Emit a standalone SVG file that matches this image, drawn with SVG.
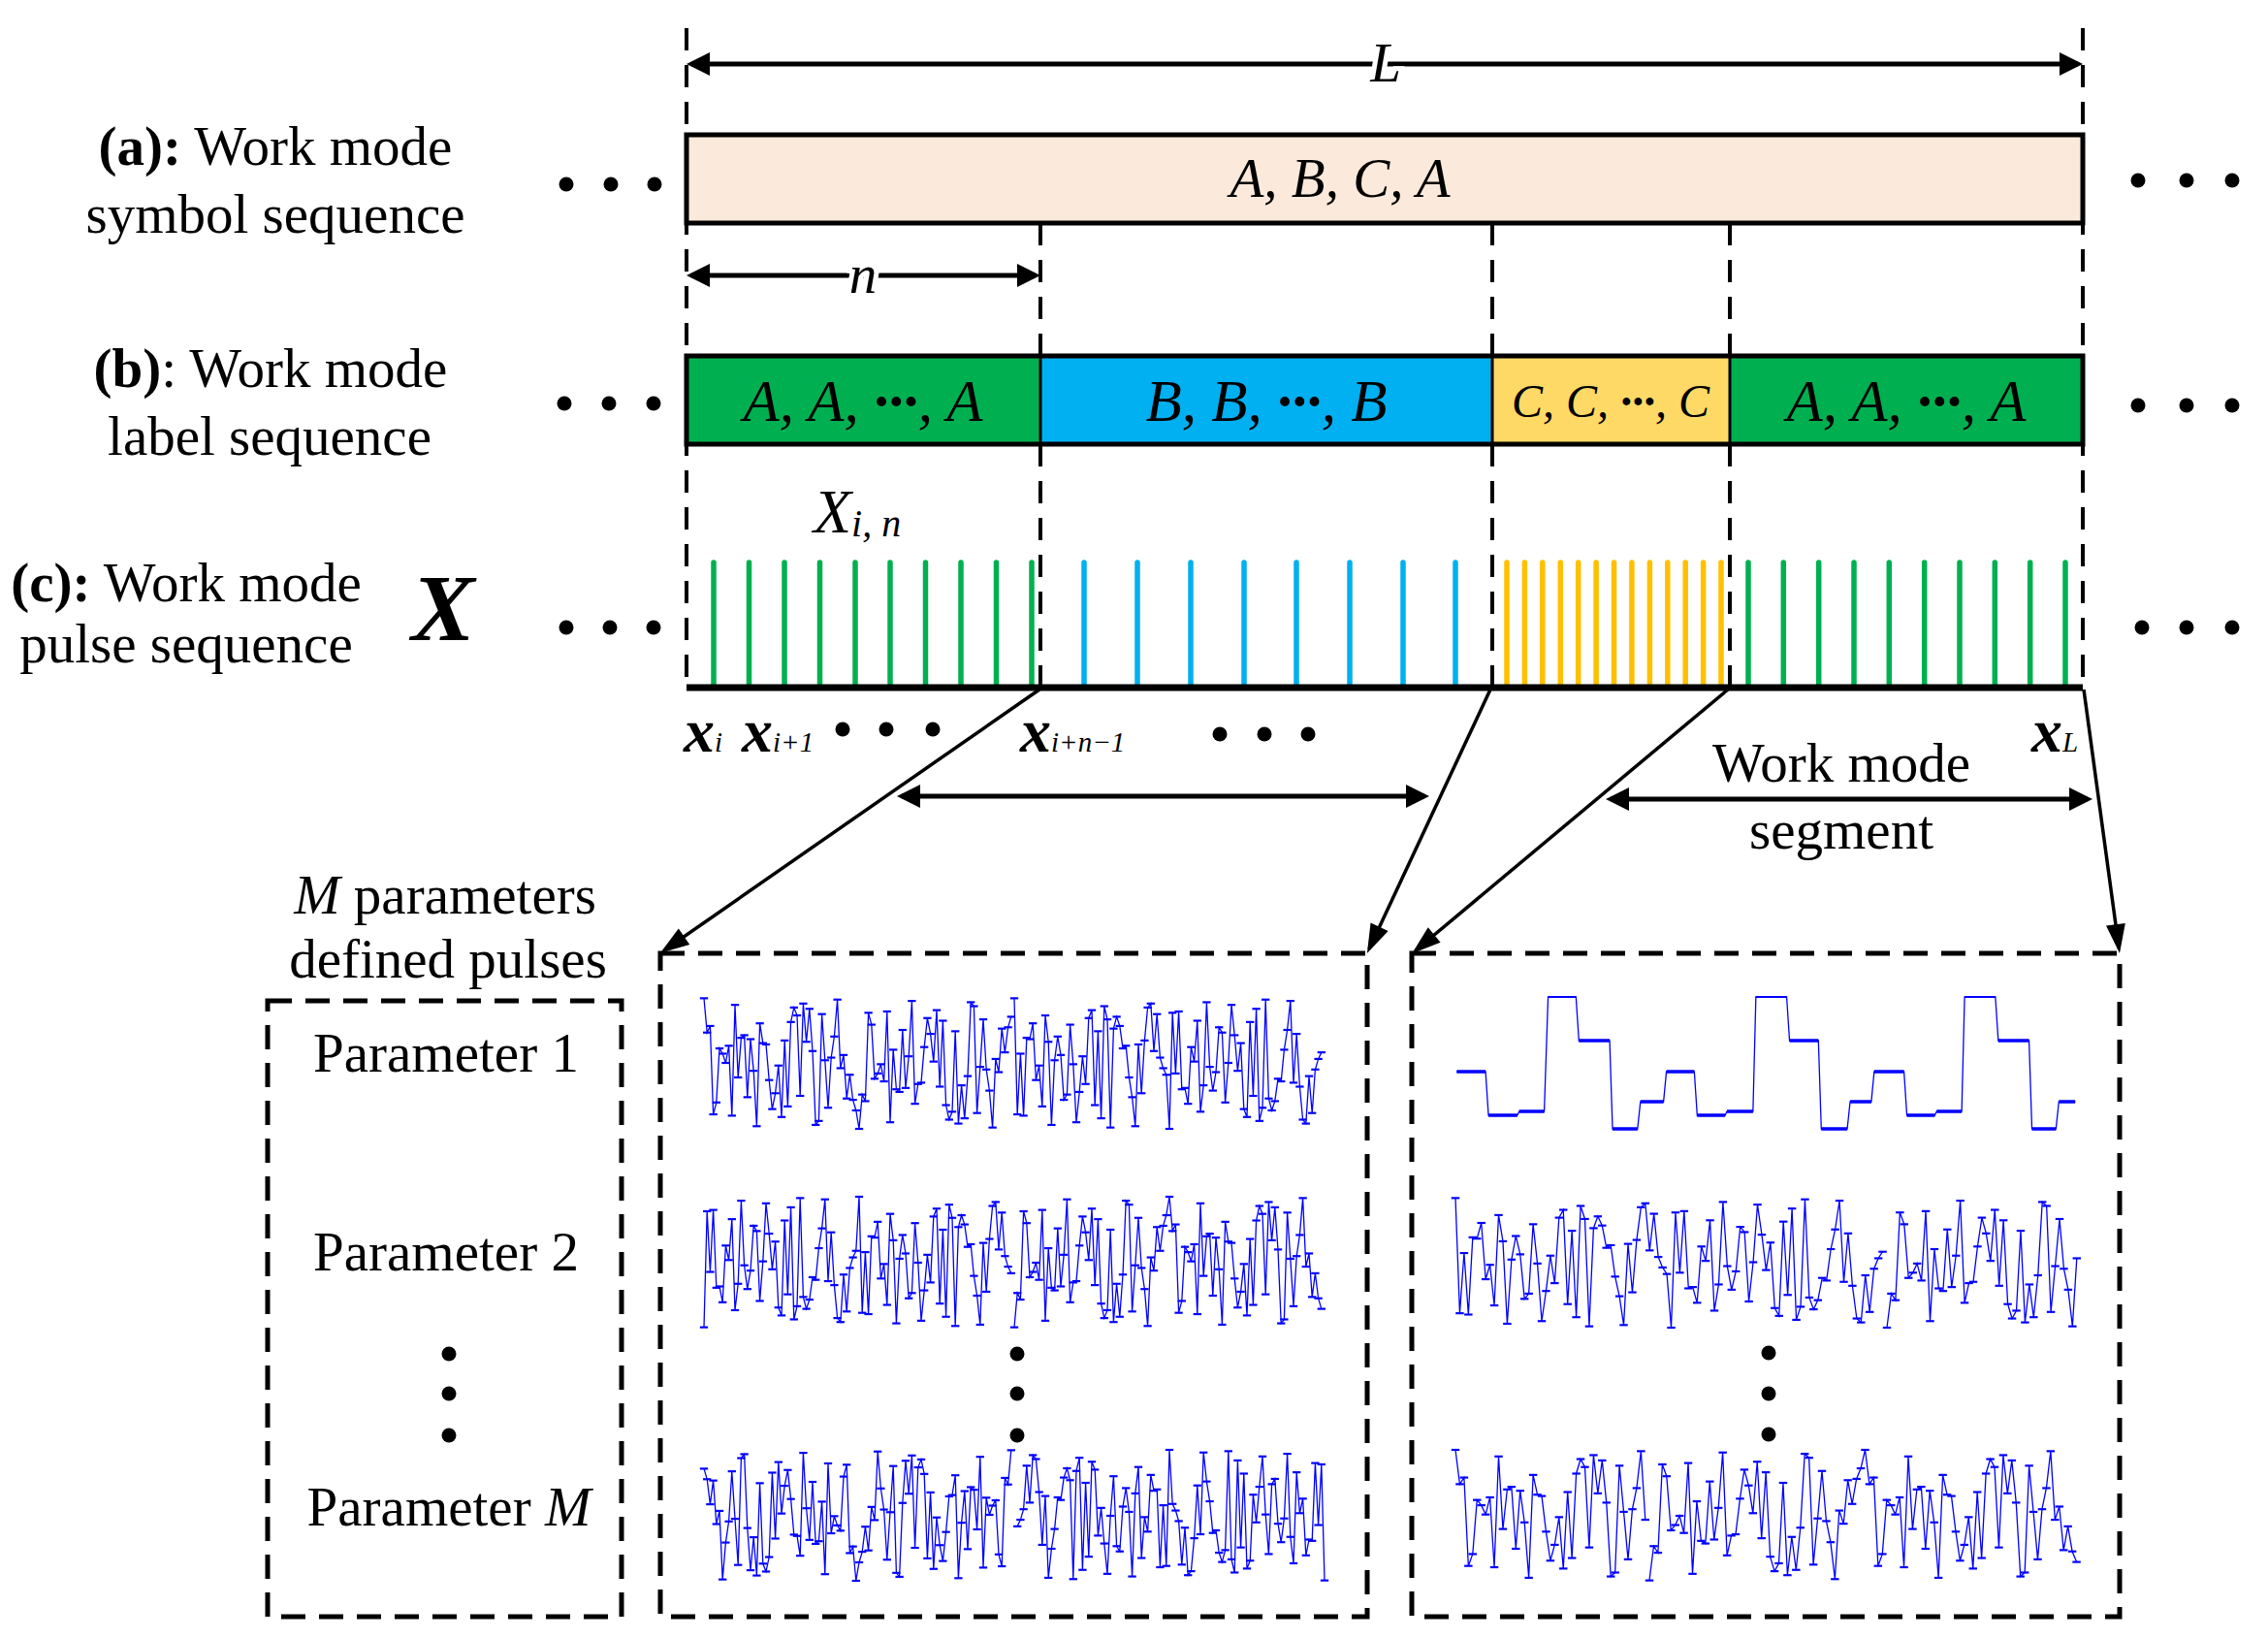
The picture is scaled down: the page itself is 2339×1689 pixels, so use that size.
<svg xmlns="http://www.w3.org/2000/svg" width="2339" height="1689" viewBox="0 0 2339 1689">
<style>
.t{font-family:"Liberation Serif","Times New Roman",serif;font-size:57px;fill:#000}
.it{font-style:italic}
.b{font-weight:bold}
.n{font-weight:normal}
.mid{text-anchor:middle}
.halo{stroke:#fff;stroke-width:10;paint-order:stroke}
.dv{stroke:#000;stroke-width:4;stroke-dasharray:23 15;fill:none}
.box{fill:none;stroke:#000;stroke-width:5;stroke-dasharray:25 14}
.arr{stroke:#000;stroke-width:5;fill:none;marker-start:url(#ah);marker-end:url(#ah)}
.con{stroke:#000;stroke-width:3.5;fill:none;marker-end:url(#ch)}
.pl{fill:none;stroke-width:5.5;stroke-linecap:round}
.wv{fill:none;stroke:#0000ff;stroke-width:1.3}
.m1{marker-start:url(#t1);marker-mid:url(#t1);marker-end:url(#t1)}
.m2{marker-start:url(#t2);marker-mid:url(#t2);marker-end:url(#t2)}
.dots{fill:#000}
.lbl{font-size:61px}
.xl{font-size:64px}
.sub{font-size:29px;font-weight:normal}
</style>
<defs>
<marker id="ah" markerUnits="userSpaceOnUse" orient="auto-start-reverse" overflow="visible" markerWidth="1" markerHeight="1"><path d="M5,0 L-19,-12 L-19,12Z" fill="#000"/></marker>
<marker id="ch" markerUnits="userSpaceOnUse" orient="auto" overflow="visible" markerWidth="1" markerHeight="1"><path d="M5,0 L-25,-10 L-25,10Z" fill="#000"/></marker>
<marker id="t1" markerUnits="userSpaceOnUse" overflow="visible" markerWidth="1" markerHeight="1"><path d="M-1.3,0H1.3" stroke="#0000ff" stroke-width="1.6"/></marker>
<marker id="t2" markerUnits="userSpaceOnUse" overflow="visible" markerWidth="1" markerHeight="1"><path d="M-0.95,0H0.95" stroke="#0000ff" stroke-width="1.6"/></marker>
<polyline id="nA" vector-effect="non-scaling-stroke" points="0,1 1,27 2,22 3,89 4,80 5,39 6,43 7,50 8,37 9,90 10,6 11,61 12,31 13,29 14,76 15,32 16,56 17,98 18,20 19,35 20,36 21,63 22,85 23,73 24,52 25,91 26,33 27,83 28,19 29,8 30,14 31,75 32,5 33,34 34,9 35,41 36,97 37,94 38,13 39,48 40,84 41,46 42,30 43,2 44,54 45,44 46,77 47,59 48,78 49,86 50,100 51,74 52,79 53,12 54,21 55,62 56,58 57,51 58,64 59,11 60,95 61,40 62,70 63,72 64,25 65,69 66,45 67,3 68,81 69,66 70,65 71,38 72,16 73,28 74,49 75,10 76,68 77,18 78,82 79,93 80,87 81,26 82,96 83,67 84,92 85,60 86,4 87,7 88,88 89,53 90,17 91,55 92,71 93,99 94,47 95,57 96,24 97,42 98,23 99,15"/>
<polyline id="nB" vector-effect="non-scaling-stroke" points="0,1 1,89 2,43 3,90 4,31 5,32 6,20 7,63 8,52 9,83 10,14 11,34 12,97 13,48 14,30 15,44 16,78 17,74 18,21 19,51 20,95 21,72 22,45 23,66 24,16 25,10 26,82 27,26 28,92 29,7 30,17 31,99 32,24 33,15 34,22 35,39 36,37 37,61 38,76 39,98 40,36 41,73 42,33 43,8 44,5 45,41 46,13 47,46 48,54 49,59 50,100 51,12 52,58 53,11 54,70 55,69 56,81 57,38 58,49 59,18 60,87 61,67 62,4 63,53 64,71 65,57 66,23 67,27 68,80 69,50 70,6 71,29 72,56 73,35 74,85 75,91 76,19 77,75 78,9 79,94 80,84 81,2 82,77 83,86 84,79 85,62 86,64 87,40 88,25 89,3 90,65 91,28 92,68 93,93 94,96 95,60 96,88 97,55 98,47 99,42"/>
<polyline id="nC" vector-effect="non-scaling-stroke" points="0,100 1,74 2,79 3,12 4,21 5,62 6,58 7,51 8,64 9,11 10,95 11,40 12,70 13,72 14,25 15,69 16,45 17,3 18,81 19,66 20,65 21,38 22,16 23,28 24,49 25,10 26,68 27,18 28,82 29,93 30,87 31,26 32,96 33,67 34,92 35,60 36,4 37,7 38,88 39,53 40,17 41,55 42,71 43,99 44,47"/>
</defs>
<rect width="2339" height="1689" fill="#fff"/>

<g id="guides">
<path class="dv" d="M708,29V709 M2148,29V709 M1073,230V709 M1539,230V709 M1784,230V709"/>
</g>

<g id="bar-a">
<rect x="708" y="139" width="1440" height="91" fill="#FBE9DB" stroke="#000" stroke-width="5"/>
<text class="t it mid" x="1382" y="203">A, B, C, A</text>
</g>

<g id="bar-b">
<rect x="708" y="367" width="365" height="91" fill="#00B050"/>
<rect x="1073" y="367" width="466" height="91" fill="#00B0F0"/>
<rect x="1539" y="367" width="245" height="91" fill="#FFD966"/>
<rect x="1784" y="367" width="364" height="91" fill="#00B050"/>
<rect x="708" y="367" width="1440" height="91" fill="none" stroke="#000" stroke-width="5"/>
<path d="M1073,367V458 M1539,367V458 M1784,367V458" stroke="#000" stroke-width="3"/>
<text class="t it mid lbl" x="890" y="434">A, A, <tspan class="b">···</tspan>, A</text>
<text class="t it mid lbl" x="1306" y="434">B, B, <tspan class="b">···</tspan>, B</text>
<text class="t it mid" style="font-size:48px" x="1661" y="430">C, C, <tspan class="b">···</tspan>, C</text>
<text class="t it mid lbl" x="1966" y="434">A, A, <tspan class="b">···</tspan>, A</text>
</g>

<g id="pulse-seq">
<path class="pl" stroke="#00B050" d="M736,580V707 M772.5,580V707 M809,580V707 M845.5,580V707 M882,580V707 M918,580V707 M954.5,580V707 M991,580V707 M1027.5,580V707 M1064,580V707 M1803,580V707 M1839.3,580V707 M1875.7,580V707 M1912,580V707 M1948.3,580V707 M1984.7,580V707 M2021,580V707 M2057.3,580V707 M2093.7,580V707 M2130,580V707"/>
<path class="pl" stroke="#00B0F0" d="M1118,580V707 M1173,580V707 M1228,580V707 M1283,580V707 M1337,580V707 M1392,580V707 M1447,580V707 M1501,580V707"/>
<path class="pl" stroke="#FFC000" d="M1554,580V707 M1572.4,580V707 M1590.8,580V707 M1609.3,580V707 M1627.7,580V707 M1646.1,580V707 M1664.5,580V707 M1682.9,580V707 M1701.4,580V707 M1719.8,580V707 M1738.2,580V707 M1756.6,580V707 M1775,580V707"/>
<line x1="708" y1="709" x2="2148" y2="709" stroke="#000" stroke-width="7"/>
</g>

<g id="row-labels">
<text class="t mid" x="284" y="170"><tspan class="b">(a):</tspan> Work mode</text>
<text class="t mid" x="284" y="240">symbol sequence</text>
<text class="t mid" x="279" y="399"><tspan class="b">(b)</tspan>: Work mode</text>
<text class="t mid" x="278" y="469">label sequence</text>
<text class="t mid" x="192" y="620"><tspan class="b">(c):</tspan> Work mode</text>
<text class="t mid" x="192" y="683">pulse sequence</text>
<text class="t b it mid" style="font-size:98px" x="457" y="660">X</text>
</g>

<g id="ellipses" class="dots">
<circle cx="584" cy="190" r="7.5"/><circle cx="630" cy="190" r="7.5"/><circle cx="675" cy="190" r="7.5"/>
<circle cx="582" cy="416" r="7.5"/><circle cx="628" cy="416" r="7.5"/><circle cx="674" cy="416" r="7.5"/>
<circle cx="584" cy="647" r="7.5"/><circle cx="629" cy="647" r="7.5"/><circle cx="674" cy="647" r="7.5"/>
<circle cx="2205" cy="186" r="7.5"/><circle cx="2255" cy="186" r="7.5"/><circle cx="2302" cy="186" r="7.5"/>
<circle cx="2205" cy="418" r="7.5"/><circle cx="2255" cy="418" r="7.5"/><circle cx="2302" cy="418" r="7.5"/>
<circle cx="2209" cy="647" r="7.5"/><circle cx="2255" cy="647" r="7.5"/><circle cx="2302" cy="647" r="7.5"/>
<circle cx="869" cy="752" r="7.5"/><circle cx="914" cy="752" r="7.5"/><circle cx="962" cy="752" r="7.5"/>
<circle cx="1258" cy="757" r="7.5"/><circle cx="1304" cy="757" r="7.5"/><circle cx="1349" cy="757" r="7.5"/>
<circle cx="463" cy="1396" r="7.5"/><circle cx="463" cy="1437" r="7.5"/><circle cx="463" cy="1480" r="7.5"/>
<circle cx="1049" cy="1396" r="7.5"/><circle cx="1049" cy="1437" r="7.5"/><circle cx="1049" cy="1480" r="7.5"/>
<circle cx="1824" cy="1395" r="7.5"/><circle cx="1824" cy="1437" r="7.5"/><circle cx="1824" cy="1479" r="7.5"/>
</g>

<g id="pulse-labels">
<text class="t b it xl" x="705" y="775">x<tspan class="sub">i</tspan></text>
<text class="t b it xl" x="765" y="775">x<tspan class="sub">i+1</tspan></text>
<text class="t b it xl" x="1052" y="775">x<tspan class="sub">i+n−1</tspan></text>
<text class="t b it xl" x="2095" y="775">x<tspan class="sub">L</tspan></text>
<text class="t it" style="font-size:64px" x="839" y="549">X<tspan style="font-size:40px" dy="4">i, n</tspan></text>
</g>

<g id="connectors">
<line class="arr" x1="713" y1="66" x2="2143" y2="66"/>
<line class="arr" x1="713" y1="284" x2="1068" y2="284"/>
<line class="arr" x1="930" y1="821" x2="1469" y2="821"/>
<line class="arr" x1="1661" y1="824" x2="2153" y2="824"/>
<line class="con" x1="1072" y1="711" x2="685" y2="980"/>
<line class="con" x1="1537" y1="711" x2="1412" y2="978.5"/>
<line class="con" x1="1782" y1="711" x2="1460" y2="980"/>
<line class="con" x1="2149" y1="711" x2="2185.3" y2="978"/>
</g>

<g id="dim-labels">
<text class="t it mid halo" x="1429" y="84">L</text>
<text class="t it mid halo" x="890" y="302">n</text>
<text class="t mid" x="1899" y="806">Work mode</text>
<text class="t mid" x="1899" y="875">segment</text>
<text class="t mid" x="459" y="942"><tspan class="it">M</tspan> parameters</text>
<text class="t mid" x="462" y="1008">defined pulses</text>
</g>

<g id="param-box">
<rect class="box" x="276" y="1032" width="365" height="635"/>
<text class="t mid" x="460" y="1105">Parameter 1</text>
<text class="t mid" x="460" y="1310">Parameter 2</text>
<text class="t mid" x="463" y="1573">Parameter <tspan class="it">M</tspan></text>
</g>

<g id="segment-box-1">
<rect class="box" x="681" y="983" width="729" height="684"/>
<use href="#nA" class="wv m1" transform="translate(726,1028) scale(3.2,1.36)"/>
<use href="#nB" class="wv m1" transform="translate(1046,1028) scale(3.2,1.36)"/>
<use href="#nB" class="wv m1" transform="translate(726,1370) scale(3.2,-1.36)"/>
<use href="#nA" class="wv m1" transform="translate(1046,1370) scale(3.2,-1.36)"/>
<use href="#nA" class="wv m1" transform="translate(1042.8,1494) scale(-3.2,1.36)"/>
<use href="#nB" class="wv m1" transform="translate(1366,1631) scale(-3.2,-1.36)"/>
</g>

<g id="segment-box-2">
<rect class="box" x="1456" y="983" width="730" height="684"/>
<g transform="translate(1170,0) scale(0.992,1) translate(-1170,0)">
<path class="wv" d="M1505,1105 H1535 L1538,1150 H1568 L1570,1146 H1596 L1600,1028 H1629 L1632,1073 H1664 L1667,1164 H1693 L1696,1136 H1720 L1723,1105 H1752 L1755,1150 H1784 L1786,1146 H1813 L1816,1028 H1848 L1851,1073 H1881 L1884,1164 H1911 L1914,1136 H1936 L1939,1105 H1970 L1973,1150 H2002 L2004,1146 H2030 L2033,1028 H2065 L2068,1073 H2100 L2103,1164 H2128 L2131,1136 H2148"/>
<path fill="none" stroke="#0000ff" stroke-width="3.5" d="M1505,1105H1535 M1538,1150H1568 M1570,1146H1596 M1632,1073H1664 M1667,1164H1693 M1696,1136H1720 M1723,1105H1752 M1755,1150H1784 M1786,1146H1813 M1851,1073H1881 M1884,1164H1911 M1914,1136H1936 M1939,1105H1970 M1973,1150H2002 M2004,1146H2030 M2068,1073H2100 M2103,1164H2128 M2131,1136H2148"/>
<path fill="none" stroke="#0000ff" stroke-width="2" d="M1600,1028H1629 M1816,1028H1848 M2033,1028H2065"/>
</g>
<use href="#nB" class="wv m2" transform="translate(1501,1234) scale(4.45,1.35)"/>
<use href="#nC" class="wv m2" transform="translate(1946,1234) scale(4.45,1.35)"/>
<use href="#nC" class="wv m2" transform="translate(1501,1631) scale(4.45,-1.36)"/>
<use href="#nA" class="wv m2" transform="translate(1701,1631) scale(4.45,-1.36)"/>
</g>
</svg>
